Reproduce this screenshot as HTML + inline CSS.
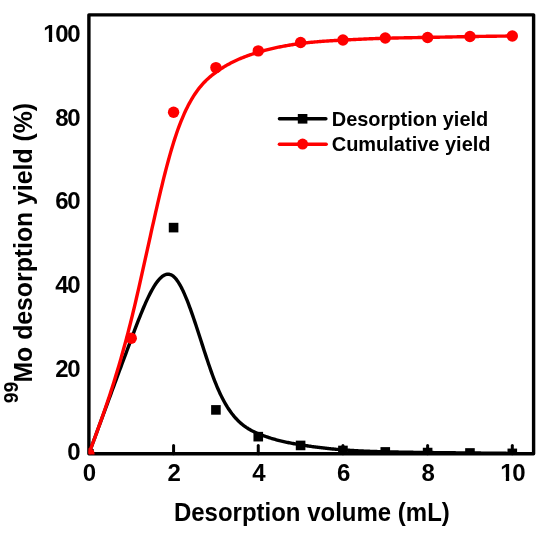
<!DOCTYPE html>
<html><head><meta charset="utf-8"><style>
html,body{margin:0;padding:0;background:#fff;width:550px;height:534px;overflow:hidden}
svg{display:block}
text{font-family:"Liberation Sans",Arial,sans-serif;font-weight:bold}
</style></head><body>
<svg width="550" height="534" viewBox="0 0 550 534">
<rect width="550" height="534" fill="#fff"/>
<defs><clipPath id="c"><rect x="88.5" y="14.85" width="445.1" height="439.65"/></clipPath></defs>
<line x1="173.58" y1="445.5" x2="173.58" y2="453.8" stroke="#000" stroke-width="3" stroke-linecap="round"/>
<line x1="258.26" y1="445.5" x2="258.26" y2="453.8" stroke="#000" stroke-width="3" stroke-linecap="round"/>
<line x1="342.94" y1="445.5" x2="342.94" y2="453.8" stroke="#000" stroke-width="3" stroke-linecap="round"/>
<line x1="427.62" y1="445.5" x2="427.62" y2="453.8" stroke="#000" stroke-width="3" stroke-linecap="round"/>
<line x1="512.30" y1="445.5" x2="512.30" y2="453.8" stroke="#000" stroke-width="3" stroke-linecap="round"/>
<rect x="88.9" y="14.85" width="444.70000000000005" height="438.95" fill="none" stroke="#000" stroke-width="3.4" stroke-linejoin="round"/>
<g clip-path="url(#c)">
<path d="M88.90,453.80 L88.90,453.80 L88.90,453.80 L88.90,453.79 L88.91,453.78 L88.91,453.76 L88.92,453.74 L88.94,453.70 L88.96,453.65 L88.98,453.58 L89.01,453.50 L89.05,453.40 L89.09,453.28 L89.14,453.14 L89.20,452.98 L89.27,452.79 L89.35,452.57 L89.44,452.32 L89.54,452.05 L89.66,451.74 L89.78,451.40 L89.92,451.02 L90.07,450.60 L90.24,450.14 L90.42,449.65 L90.62,449.10 L90.84,448.52 L91.07,447.89 L91.32,447.20 L91.59,446.47 L91.88,445.69 L92.18,444.85 L92.51,443.95 L92.86,443.00 L93.23,441.99 L93.63,440.92 L94.04,439.78 L94.49,438.58 L94.95,437.31 L95.44,435.97 L95.96,434.57 L96.50,433.09 L97.07,431.54 L97.66,429.92 L98.28,428.24 L98.92,426.49 L99.58,424.68 L100.27,422.81 L100.98,420.88 L101.71,418.89 L102.46,416.85 L103.23,414.75 L104.02,412.61 L104.83,410.41 L105.66,408.16 L106.50,405.87 L107.36,403.54 L108.24,401.16 L109.13,398.74 L110.03,396.29 L110.95,393.79 L111.88,391.27 L112.83,388.71 L113.79,386.12 L114.76,383.50 L115.73,380.85 L116.72,378.18 L117.72,375.48 L118.73,372.77 L119.74,370.03 L120.77,367.28 L121.79,364.51 L122.83,361.72 L123.87,358.93 L124.91,356.12 L125.96,353.30 L127.01,350.48 L128.07,347.66 L129.12,344.83 L130.18,342.00 L131.24,339.17 L132.30,336.35 L133.36,333.53 L134.42,330.72 L135.47,327.93 L136.53,325.16 L137.59,322.42 L138.65,319.71 L139.71,317.03 L140.77,314.39 L141.83,311.79 L142.88,309.24 L143.94,306.75 L145.00,304.31 L146.06,301.93 L147.12,299.62 L148.18,297.38 L149.23,295.21 L150.29,293.12 L151.35,291.12 L152.41,289.21 L153.47,287.39 L154.53,285.66 L155.59,284.04 L156.64,282.53 L157.70,281.12 L158.76,279.83 L159.82,278.67 L160.88,277.62 L161.94,276.71 L163.00,275.93 L164.05,275.28 L165.11,274.78 L166.17,274.43 L167.23,274.23 L168.29,274.18 L169.35,274.30 L170.40,274.58 L171.46,275.03 L172.52,275.65 L173.58,276.46 L174.64,277.44 L175.70,278.60 L176.76,279.93 L177.81,281.42 L178.87,283.07 L179.93,284.86 L180.99,286.80 L182.05,288.87 L183.11,291.07 L184.16,293.38 L185.22,295.81 L186.28,298.35 L187.34,300.99 L188.40,303.71 L189.46,306.53 L190.52,309.42 L191.57,312.38 L192.63,315.40 L193.69,318.49 L194.75,321.62 L195.81,324.80 L196.87,328.01 L197.93,331.25 L198.98,334.51 L200.04,337.79 L201.10,341.07 L202.16,344.36 L203.22,347.64 L204.28,350.91 L205.34,354.15 L206.39,357.37 L207.45,360.56 L208.51,363.70 L209.57,366.80 L210.63,369.84 L211.69,372.82 L212.74,375.73 L213.80,378.57 L214.86,381.32 L215.92,383.98 L216.98,386.54 L218.04,389.01 L219.10,391.39 L220.15,393.68 L221.21,395.87 L222.27,397.98 L223.33,400.01 L224.39,401.96 L225.45,403.82 L226.51,405.61 L227.56,407.32 L228.62,408.95 L229.68,410.52 L230.74,412.02 L231.80,413.45 L232.86,414.81 L233.91,416.11 L234.97,417.35 L236.03,418.54 L237.09,419.66 L238.15,420.74 L239.21,421.76 L240.27,422.73 L241.32,423.65 L242.38,424.52 L243.44,425.36 L244.50,426.15 L245.56,426.90 L246.62,427.62 L247.68,428.30 L248.73,428.95 L249.79,429.56 L250.85,430.15 L251.91,430.72 L252.97,431.26 L254.03,431.77 L255.08,432.27 L256.14,432.75 L257.20,433.21 L258.26,433.66 L259.32,434.10 L260.38,434.53 L261.44,434.94 L262.49,435.35 L263.55,435.75 L264.61,436.13 L265.67,436.51 L266.73,436.87 L267.79,437.23 L268.85,437.58 L269.90,437.92 L270.96,438.25 L272.02,438.57 L273.08,438.88 L274.14,439.19 L275.20,439.48 L276.25,439.77 L277.31,440.05 L278.37,440.33 L279.43,440.60 L280.49,440.86 L281.55,441.11 L282.61,441.36 L283.66,441.60 L284.72,441.83 L285.78,442.06 L286.84,442.29 L287.90,442.51 L288.96,442.72 L290.01,442.93 L291.07,443.14 L292.13,443.34 L293.19,443.53 L294.25,443.73 L295.31,443.91 L296.37,444.10 L297.42,444.28 L298.48,444.46 L299.54,444.64 L300.60,444.81 L301.66,444.98 L302.72,445.15 L303.78,445.32 L304.83,445.48 L305.89,445.64 L306.95,445.80 L308.01,445.96 L309.07,446.12 L310.13,446.27 L311.19,446.42 L312.24,446.57 L313.30,446.71 L314.36,446.86 L315.42,447.00 L316.48,447.14 L317.54,447.27 L318.59,447.41 L319.65,447.54 L320.71,447.67 L321.77,447.79 L322.83,447.92 L323.89,448.04 L324.95,448.16 L326.00,448.28 L327.06,448.40 L328.12,448.51 L329.18,448.62 L330.24,448.73 L331.30,448.84 L332.36,448.94 L333.41,449.04 L334.47,449.14 L335.53,449.24 L336.59,449.34 L337.65,449.43 L338.71,449.52 L339.76,449.61 L340.82,449.70 L341.88,449.78 L342.94,449.86 L344.00,449.94 L345.06,450.02 L346.12,450.10 L347.17,450.17 L348.23,450.24 L349.29,450.31 L350.35,450.38 L351.41,450.44 L352.47,450.51 L353.52,450.57 L354.58,450.63 L355.64,450.69 L356.70,450.74 L357.76,450.80 L358.82,450.85 L359.88,450.90 L360.93,450.95 L361.99,451.00 L363.05,451.05 L364.11,451.10 L365.17,451.14 L366.23,451.18 L367.29,451.22 L368.34,451.27 L369.40,451.30 L370.46,451.34 L371.52,451.38 L372.58,451.42 L373.64,451.45 L374.69,451.48 L375.75,451.52 L376.81,451.55 L377.87,451.58 L378.93,451.61 L379.99,451.64 L381.05,451.67 L382.10,451.70 L383.16,451.73 L384.22,451.75 L385.28,451.78 L386.34,451.81 L387.40,451.83 L388.46,451.86 L389.51,451.88 L390.57,451.90 L391.63,451.93 L392.69,451.95 L393.75,451.97 L394.81,451.99 L395.87,452.02 L396.92,452.04 L397.98,452.06 L399.04,452.08 L400.10,452.10 L401.16,452.12 L402.22,452.14 L403.27,452.16 L404.33,452.17 L405.39,452.19 L406.45,452.21 L407.51,452.23 L408.57,452.24 L409.63,452.26 L410.68,452.28 L411.74,452.29 L412.80,452.31 L413.86,452.33 L414.92,452.34 L415.98,452.36 L417.04,452.37 L418.09,452.39 L419.15,452.40 L420.21,452.42 L421.27,452.43 L422.33,452.44 L423.39,452.46 L424.44,452.47 L425.50,452.48 L426.56,452.50 L427.62,452.51 L428.68,452.52 L429.74,452.54 L430.80,452.55 L431.85,452.56 L432.91,452.57 L433.97,452.59 L435.03,452.60 L436.09,452.61 L437.15,452.62 L438.20,452.64 L439.26,452.65 L440.32,452.66 L441.38,452.67 L442.44,452.68 L443.50,452.69 L444.56,452.71 L445.61,452.72 L446.67,452.73 L447.73,452.74 L448.79,452.75 L449.85,452.76 L450.91,452.77 L451.97,452.78 L453.02,452.79 L454.08,452.81 L455.14,452.82 L456.20,452.83 L457.26,452.84 L458.32,452.85 L459.38,452.86 L460.43,452.87 L461.49,452.88 L462.55,452.89 L463.61,452.90 L464.67,452.91 L465.73,452.92 L466.78,452.93 L467.84,452.94 L468.90,452.95 L469.96,452.96 L471.02,452.97 L472.08,452.98 L473.13,453.00 L474.19,453.01 L475.24,453.02 L476.29,453.03 L477.33,453.04 L478.37,453.05 L479.41,453.06 L480.43,453.07 L481.46,453.08 L482.47,453.09 L483.48,453.10 L484.48,453.11 L485.47,453.12 L486.44,453.13 L487.41,453.14 L488.37,453.15 L489.32,453.15 L490.25,453.16 L491.17,453.17 L492.07,453.18 L492.96,453.19 L493.84,453.20 L494.70,453.21 L495.54,453.22 L496.37,453.22 L497.18,453.23 L497.97,453.24 L498.74,453.25 L499.49,453.26 L500.22,453.26 L500.93,453.27 L501.62,453.28 L502.28,453.28 L502.92,453.29 L503.54,453.30 L504.13,453.30 L504.70,453.31 L505.24,453.31 L505.76,453.32 L506.25,453.32 L506.71,453.33 L507.16,453.33 L507.57,453.34 L507.97,453.34 L508.34,453.34 L508.69,453.35 L509.02,453.35 L509.32,453.35 L509.61,453.36 L509.88,453.36 L510.13,453.36 L510.36,453.36 L510.58,453.36 L510.78,453.37 L510.96,453.37 L511.13,453.37 L511.28,453.37 L511.42,453.37 L511.54,453.37 L511.66,453.38 L511.76,453.38 L511.85,453.38 L511.93,453.38 L512.00,453.38 L512.06,453.38 L512.11,453.38 L512.15,453.38 L512.19,453.38 L512.22,453.38 L512.24,453.38 L512.26,453.38 L512.28,453.38 L512.29,453.38 L512.29,453.38 L512.30,453.38 L512.30,453.38 L512.30,453.38 L512.30,453.38" fill="none" stroke="#000" stroke-width="3.4" stroke-linejoin="round"/>
<rect x="84.10" y="449.00" width="9.6" height="9.6" fill="#000"/>
<rect x="168.78" y="222.81" width="9.6" height="9.6" fill="#000"/>
<rect x="211.12" y="405.10" width="9.6" height="9.6" fill="#000"/>
<rect x="253.46" y="431.86" width="9.6" height="9.6" fill="#000"/>
<rect x="295.80" y="440.64" width="9.6" height="9.6" fill="#000"/>
<rect x="338.14" y="445.66" width="9.6" height="9.6" fill="#000"/>
<rect x="380.48" y="447.12" width="9.6" height="9.6" fill="#000"/>
<rect x="422.82" y="447.75" width="9.6" height="9.6" fill="#000"/>
<rect x="465.16" y="448.16" width="9.6" height="9.6" fill="#000"/>
<rect x="507.50" y="448.58" width="9.6" height="9.6" fill="#000"/>
<path d="M88.90,453.80 L88.90,453.80 L88.90,453.80 L88.90,453.79 L88.91,453.78 L88.91,453.76 L88.92,453.74 L88.94,453.70 L88.96,453.65 L88.98,453.58 L89.01,453.50 L89.05,453.40 L89.09,453.28 L89.14,453.14 L89.20,452.97 L89.27,452.79 L89.35,452.57 L89.44,452.32 L89.54,452.05 L89.66,451.74 L89.78,451.39 L89.92,451.01 L90.07,450.60 L90.24,450.14 L90.42,449.64 L90.62,449.10 L90.84,448.51 L91.07,447.88 L91.32,447.20 L91.59,446.47 L91.88,445.68 L92.18,444.84 L92.51,443.95 L92.86,442.99 L93.23,441.98 L93.63,440.91 L94.04,439.77 L94.49,438.57 L94.95,437.30 L95.44,435.96 L95.96,434.55 L96.50,433.07 L97.07,431.52 L97.66,429.90 L98.28,428.20 L98.92,426.44 L99.58,424.60 L100.27,422.69 L100.98,420.70 L101.71,418.65 L102.46,416.52 L103.23,414.33 L104.02,412.06 L104.83,409.72 L105.66,407.31 L106.50,404.82 L107.36,402.27 L108.24,399.65 L109.13,396.95 L110.03,394.19 L110.95,391.35 L111.88,388.44 L112.83,385.46 L113.79,382.42 L114.76,379.30 L115.73,376.11 L116.72,372.85 L117.72,369.52 L118.73,366.12 L119.74,362.65 L120.77,359.11 L121.79,355.50 L122.83,351.82 L123.87,348.07 L124.91,344.25 L125.96,340.37 L127.01,336.41 L128.07,332.38 L129.12,328.28 L130.18,324.12 L131.24,319.88 L132.30,315.58 L133.36,311.21 L134.42,306.78 L135.47,302.30 L136.53,297.76 L137.59,293.18 L138.65,288.56 L139.71,283.90 L140.77,279.21 L141.83,274.49 L142.88,269.74 L143.94,264.98 L145.00,260.20 L146.06,255.42 L147.12,250.62 L148.18,245.83 L149.23,241.04 L150.29,236.26 L151.35,231.49 L152.41,226.74 L153.47,222.01 L154.53,217.31 L155.59,212.64 L156.64,208.01 L157.70,203.42 L158.76,198.87 L159.82,194.37 L160.88,189.92 L161.94,185.54 L163.00,181.21 L164.05,176.96 L165.11,172.77 L166.17,168.67 L167.23,164.64 L168.29,160.70 L169.35,156.86 L170.40,153.10 L171.46,149.45 L172.52,145.90 L173.58,142.46 L174.64,139.13 L175.70,135.92 L176.76,132.81 L177.81,129.81 L178.87,126.91 L179.93,124.11 L180.99,121.42 L182.05,118.81 L183.11,116.31 L184.16,113.89 L185.22,111.57 L186.28,109.33 L187.34,107.18 L188.40,105.10 L189.46,103.11 L190.52,101.20 L191.57,99.36 L192.63,97.59 L193.69,95.90 L194.75,94.27 L195.81,92.71 L196.87,91.21 L197.93,89.77 L198.98,88.39 L200.04,87.06 L201.10,85.79 L202.16,84.57 L203.22,83.40 L204.28,82.27 L205.34,81.19 L206.39,80.15 L207.45,79.14 L208.51,78.18 L209.57,77.25 L210.63,76.35 L211.69,75.48 L212.74,74.64 L213.80,73.82 L214.86,73.02 L215.92,72.25 L216.98,71.49 L218.04,70.75 L219.10,70.03 L220.15,69.32 L221.21,68.63 L222.27,67.95 L223.33,67.29 L224.39,66.65 L225.45,66.02 L226.51,65.40 L227.56,64.80 L228.62,64.22 L229.68,63.64 L230.74,63.08 L231.80,62.54 L232.86,62.00 L233.91,61.48 L234.97,60.98 L236.03,60.48 L237.09,59.99 L238.15,59.52 L239.21,59.06 L240.27,58.61 L241.32,58.17 L242.38,57.73 L243.44,57.31 L244.50,56.90 L245.56,56.50 L246.62,56.10 L247.68,55.72 L248.73,55.34 L249.79,54.97 L250.85,54.61 L251.91,54.26 L252.97,53.91 L254.03,53.57 L255.08,53.24 L256.14,52.91 L257.20,52.59 L258.26,52.27 L259.32,51.96 L260.38,51.65 L261.44,51.35 L262.49,51.06 L263.55,50.77 L264.61,50.48 L265.67,50.20 L266.73,49.93 L267.79,49.66 L268.85,49.39 L269.90,49.13 L270.96,48.87 L272.02,48.62 L273.08,48.37 L274.14,48.13 L275.20,47.90 L276.25,47.66 L277.31,47.43 L278.37,47.21 L279.43,46.99 L280.49,46.78 L281.55,46.57 L282.61,46.36 L283.66,46.16 L284.72,45.96 L285.78,45.77 L286.84,45.58 L287.90,45.40 L288.96,45.22 L290.01,45.04 L291.07,44.87 L292.13,44.70 L293.19,44.53 L294.25,44.37 L295.31,44.22 L296.37,44.06 L297.42,43.91 L298.48,43.77 L299.54,43.63 L300.60,43.49 L301.66,43.36 L302.72,43.23 L303.78,43.10 L304.83,42.98 L305.89,42.86 L306.95,42.74 L308.01,42.62 L309.07,42.51 L310.13,42.41 L311.19,42.30 L312.24,42.20 L313.30,42.10 L314.36,42.00 L315.42,41.91 L316.48,41.82 L317.54,41.73 L318.59,41.64 L319.65,41.56 L320.71,41.47 L321.77,41.39 L322.83,41.31 L323.89,41.24 L324.95,41.16 L326.00,41.09 L327.06,41.02 L328.12,40.95 L329.18,40.88 L330.24,40.81 L331.30,40.75 L332.36,40.68 L333.41,40.62 L334.47,40.56 L335.53,40.50 L336.59,40.44 L337.65,40.38 L338.71,40.32 L339.76,40.26 L340.82,40.20 L341.88,40.15 L342.94,40.09 L344.00,40.03 L345.06,39.98 L346.12,39.92 L347.17,39.87 L348.23,39.81 L349.29,39.76 L350.35,39.70 L351.41,39.65 L352.47,39.60 L353.52,39.54 L354.58,39.49 L355.64,39.44 L356.70,39.39 L357.76,39.34 L358.82,39.29 L359.88,39.24 L360.93,39.19 L361.99,39.14 L363.05,39.09 L364.11,39.04 L365.17,39.00 L366.23,38.95 L367.29,38.91 L368.34,38.86 L369.40,38.82 L370.46,38.77 L371.52,38.73 L372.58,38.69 L373.64,38.65 L374.69,38.61 L375.75,38.57 L376.81,38.53 L377.87,38.49 L378.93,38.45 L379.99,38.42 L381.05,38.38 L382.10,38.35 L383.16,38.31 L384.22,38.28 L385.28,38.25 L386.34,38.22 L387.40,38.19 L388.46,38.16 L389.51,38.13 L390.57,38.10 L391.63,38.08 L392.69,38.05 L393.75,38.03 L394.81,38.00 L395.87,37.98 L396.92,37.96 L397.98,37.93 L399.04,37.91 L400.10,37.89 L401.16,37.87 L402.22,37.85 L403.27,37.83 L404.33,37.81 L405.39,37.79 L406.45,37.77 L407.51,37.75 L408.57,37.73 L409.63,37.71 L410.68,37.70 L411.74,37.68 L412.80,37.66 L413.86,37.64 L414.92,37.63 L415.98,37.61 L417.04,37.59 L418.09,37.57 L419.15,37.56 L420.21,37.54 L421.27,37.52 L422.33,37.51 L423.39,37.49 L424.44,37.47 L425.50,37.45 L426.56,37.43 L427.62,37.41 L428.68,37.40 L429.74,37.38 L430.80,37.36 L431.85,37.34 L432.91,37.32 L433.97,37.30 L435.03,37.28 L436.09,37.25 L437.15,37.23 L438.20,37.21 L439.26,37.19 L440.32,37.17 L441.38,37.15 L442.44,37.13 L443.50,37.11 L444.56,37.08 L445.61,37.06 L446.67,37.04 L447.73,37.02 L448.79,37.00 L449.85,36.97 L450.91,36.95 L451.97,36.93 L453.02,36.91 L454.08,36.89 L455.14,36.86 L456.20,36.84 L457.26,36.82 L458.32,36.80 L459.38,36.78 L460.43,36.76 L461.49,36.74 L462.55,36.72 L463.61,36.70 L464.67,36.68 L465.73,36.66 L466.78,36.64 L467.84,36.62 L468.90,36.60 L469.96,36.58 L471.02,36.56 L472.08,36.54 L473.13,36.52 L474.19,36.51 L475.24,36.49 L476.29,36.47 L477.33,36.45 L478.37,36.44 L479.41,36.42 L480.43,36.41 L481.46,36.39 L482.47,36.37 L483.48,36.36 L484.48,36.35 L485.47,36.33 L486.44,36.32 L487.41,36.30 L488.37,36.29 L489.32,36.28 L490.25,36.26 L491.17,36.25 L492.07,36.24 L492.96,36.23 L493.84,36.22 L494.70,36.21 L495.54,36.19 L496.37,36.18 L497.18,36.17 L497.97,36.16 L498.74,36.15 L499.49,36.15 L500.22,36.14 L500.93,36.13 L501.62,36.12 L502.28,36.11 L502.92,36.10 L503.54,36.10 L504.13,36.09 L504.70,36.08 L505.24,36.08 L505.76,36.07 L506.25,36.06 L506.71,36.06 L507.16,36.05 L507.57,36.05 L507.97,36.04 L508.34,36.04 L508.69,36.04 L509.02,36.03 L509.32,36.03 L509.61,36.02 L509.88,36.02 L510.13,36.02 L510.36,36.02 L510.58,36.01 L510.78,36.01 L510.96,36.01 L511.13,36.01 L511.28,36.00 L511.42,36.00 L511.54,36.00 L511.66,36.00 L511.76,36.00 L511.85,36.00 L511.93,36.00 L512.00,36.00 L512.06,36.00 L512.11,35.99 L512.15,35.99 L512.19,35.99 L512.22,35.99 L512.24,35.99 L512.26,35.99 L512.28,35.99 L512.29,35.99 L512.29,35.99 L512.30,35.99 L512.30,35.99 L512.30,35.99 L512.30,35.99" fill="none" stroke="#f00" stroke-width="3.4" stroke-linejoin="round"/>
<circle cx="88.90" cy="453.80" r="5.7" fill="#f00"/>
<circle cx="131.24" cy="338.32" r="5.7" fill="#f00"/>
<circle cx="173.58" cy="112.21" r="5.7" fill="#f00"/>
<circle cx="215.92" cy="67.60" r="5.7" fill="#f00"/>
<circle cx="258.26" cy="50.88" r="5.7" fill="#f00"/>
<circle cx="300.60" cy="42.52" r="5.7" fill="#f00"/>
<circle cx="342.94" cy="40.01" r="5.7" fill="#f00"/>
<circle cx="385.28" cy="38.00" r="5.7" fill="#f00"/>
<circle cx="427.62" cy="37.50" r="5.7" fill="#f00"/>
<circle cx="469.96" cy="36.49" r="5.7" fill="#f00"/>
<circle cx="512.30" cy="35.99" r="5.7" fill="#f00"/>
</g>
<text x="79.4" y="460.20" font-family="Liberation Sans, Arial, sans-serif" font-weight="bold" font-size="24" text-anchor="end" letter-spacing="-1.3">0</text>
<text x="79.4" y="376.58" font-family="Liberation Sans, Arial, sans-serif" font-weight="bold" font-size="24" text-anchor="end" letter-spacing="-1.3">20</text>
<text x="79.4" y="292.96" font-family="Liberation Sans, Arial, sans-serif" font-weight="bold" font-size="24" text-anchor="end" letter-spacing="-1.3">40</text>
<text x="79.4" y="209.34" font-family="Liberation Sans, Arial, sans-serif" font-weight="bold" font-size="24" text-anchor="end" letter-spacing="-1.3">60</text>
<text x="79.4" y="125.72" font-family="Liberation Sans, Arial, sans-serif" font-weight="bold" font-size="24" text-anchor="end" letter-spacing="-1.3">80</text>
<text x="79.4" y="42.10" font-family="Liberation Sans, Arial, sans-serif" font-weight="bold" font-size="24" text-anchor="end" letter-spacing="-1.3">100</text>
<text x="88.90" y="481.0" font-family="Liberation Sans, Arial, sans-serif" font-weight="bold" font-size="24" text-anchor="middle" letter-spacing="-1.3">0</text>
<text x="173.58" y="481.0" font-family="Liberation Sans, Arial, sans-serif" font-weight="bold" font-size="24" text-anchor="middle" letter-spacing="-1.3">2</text>
<text x="258.26" y="481.0" font-family="Liberation Sans, Arial, sans-serif" font-weight="bold" font-size="24" text-anchor="middle" letter-spacing="-1.3">4</text>
<text x="342.94" y="481.0" font-family="Liberation Sans, Arial, sans-serif" font-weight="bold" font-size="24" text-anchor="middle" letter-spacing="-1.3">6</text>
<text x="427.62" y="481.0" font-family="Liberation Sans, Arial, sans-serif" font-weight="bold" font-size="24" text-anchor="middle" letter-spacing="-1.3">8</text>
<text x="512.30" y="481.0" font-family="Liberation Sans, Arial, sans-serif" font-weight="bold" font-size="24" text-anchor="middle" letter-spacing="-1.3">10</text>
<rect x="43.17" y="38.35" width="5.69" height="4.45" fill="#fff"/>
<rect x="52.15" y="38.35" width="3.89" height="4.45" fill="#fff"/>
<rect x="500.16" y="477.25" width="5.69" height="4.45" fill="#fff"/>
<rect x="509.15" y="477.25" width="3.89" height="4.45" fill="#fff"/>
<text transform="translate(311.85,520.6) scale(1,1.045)" font-family="Liberation Sans, Arial, sans-serif" font-weight="bold" font-size="24" text-anchor="middle">Desorption volume (mL)</text>
<text transform="translate(31.8,403.3) rotate(-90) scale(1,1.03)" font-family="Liberation Sans, Arial, sans-serif" font-weight="bold" font-size="24.8"><tspan font-size="19.5" dy="-13.30">99</tspan><tspan dy="13.30" dx="-0.9">Mo desorption yield (%)</tspan></text>
<line x1="279.4" y1="118.7" x2="325.9" y2="118.7" stroke="#000" stroke-width="3.4" stroke-linecap="round"/>
<rect x="297.8" y="114.0" width="9.6" height="9.6" fill="#000"/>
<line x1="279.4" y1="144.2" x2="326.2" y2="144.2" stroke="#f00" stroke-width="3.4" stroke-linecap="round"/>
<circle cx="302.6" cy="144.1" r="5.5" fill="#f00"/>
<text transform="translate(331.7,125.6) scale(1,1.045)" font-family="Liberation Sans, Arial, sans-serif" font-weight="bold" font-size="20">Desorption yield</text>
<text transform="translate(331.7,151.2) scale(1,1.045)" font-family="Liberation Sans, Arial, sans-serif" font-weight="bold" font-size="20">Cumulative yield</text>
</svg>
</body></html>
